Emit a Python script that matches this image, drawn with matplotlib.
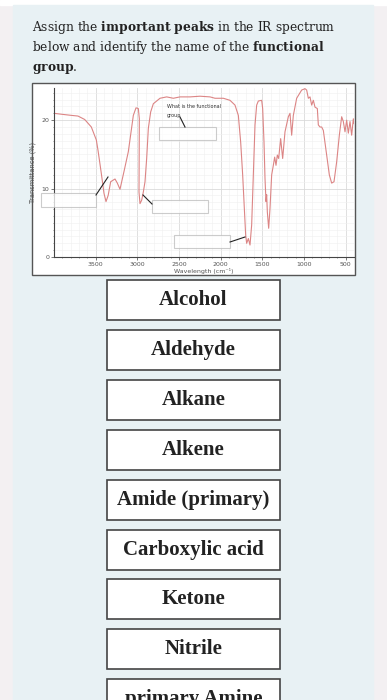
import numpy as np
import matplotlib.pyplot as plt
from matplotlib.patches import Rectangle

W, H = 387, 700

# IR spectrum
wavenumber = [4000, 3900, 3792, 3712, 3632, 3552, 3492, 3472, 3432, 3400, 3376,
              3350, 3320, 3268, 3240, 3208, 3160, 3108, 3048, 3016, 2988, 2976,
              2980, 2968, 2948, 2928, 2908, 2888, 2868, 2840, 2808, 2728, 2648,
              2568, 2488, 2368, 2248, 2128, 2068, 1968, 1888, 1828, 1788, 1760,
              1736, 1716, 1700, 1688, 1668, 1648, 1628, 1608, 1588, 1568, 1548,
              1508, 1496, 1480, 1468, 1456, 1448, 1440, 1424, 1408, 1388, 1368,
              1352, 1336, 1320, 1304, 1280, 1256, 1228, 1188, 1168, 1148, 1128,
              1088, 1028, 988, 968, 948, 928, 908, 888, 868, 840, 828, 808, 788,
              768, 728, 696, 668, 640, 608, 576, 548, 528, 508, 488, 468, 448,
              428, 408, 400]
transmittance = [21.0, 20.85, 20.7, 20.6, 20.1, 19.0, 17.1, 15.6, 12.2, 9.3, 8.1,
                 9.0, 11.0, 11.4, 10.8, 9.9, 12.5, 15.4, 20.7, 21.8, 21.7, 20.2,
                 9.5, 7.8, 8.3, 9.5, 11.0, 14.4, 18.8, 21.2, 22.4, 23.2, 23.4,
                 23.2, 23.4, 23.4, 23.5, 23.4, 23.2, 23.2, 22.9, 22.2, 20.7, 16.8,
                 12.0, 7.1, 3.2, 2.0, 2.7, 1.75, 4.7, 12.0, 19.3, 22.2, 22.8,
                 22.9, 21.7, 16.8, 11.5, 8.1, 9.1, 6.6, 4.2, 7.1, 12.0, 13.4,
                 14.6, 13.4, 14.9, 14.4, 17.3, 14.4, 18.3, 20.5, 21.0, 17.8, 20.7,
                 23.2, 24.4, 24.6, 24.4, 23.2, 23.4, 22.2, 22.9, 21.9, 21.7, 19.3,
                 19.0, 19.0, 18.5, 14.9, 12.0, 10.8, 11.0, 13.9, 17.8, 20.5, 19.8,
                 18.3, 20.0, 18.1, 19.8, 17.8, 20.2, 19.5]

x_ticks = [3500, 3000, 2500, 2000, 1500, 1000, 500]
y_ticks = [0, 10, 20]

choices = ["Alcohol", "Aldehyde", "Alkane", "Alkene", "Amide (primary)",
           "Carboxylic acid", "Ketone", "Nitrile", "primary Amine"]

title_lines = [r"Assign the $\mathbf{important\ peaks}$ in the IR spectrum",
               r"below and identify the name of the $\mathbf{functional}$",
               r"$\mathbf{group}$."]

plt.rcParams['mathtext.fontset'] = 'dejavuserif'


def px_axes(zorder):
    # full-figure axes working in pixel coordinates
    a = fig.add_axes([0, 0, 1, 1], zorder=zorder)
    a.set_xlim(0, W)
    a.set_ylim(H, 0)
    a.axis('off')
    a.patch.set_alpha(0)
    return a


fig = plt.figure(figsize=(W / 100, H / 100), dpi=100)
fig.patch.set_facecolor('#f3f0f2')

bg = px_axes(0)
bg.add_patch(Rectangle((0, 0), W, 5, color='white'))
bg.add_patch(Rectangle((13, 5), 360, 695, color='#e8f1f4'))
for i, line in enumerate(title_lines):
    bg.text(32, 31.5 + 19.5 * i, line, family='DejaVu Serif', fontsize=8.8,
            color='#222222', va='baseline')

bg.add_patch(Rectangle((32, 83), 323, 192, facecolor='white',
                       edgecolor='#555555', lw=1))

for i, c in enumerate(choices):
    top = 280 + 49.9 * i
    bg.add_patch(Rectangle((107, top), 173, 40, facecolor='white',
                           edgecolor='#444444', lw=1.2))
    # the last choice is cut by the bottom edge, as in the screenshot
    bg.text(193.5, top + 20, c, family='Liberation Serif', weight='bold',
            fontsize=15, ha='center', va='center', color='#222222')

# spectrum
ax = fig.add_axes([54 / W, 1 - 257 / H, 300 / W, 169 / H], zorder=1)
ax.plot(wavenumber, transmittance, color='#dc8585', lw=0.8)
ax.set_xlim(4000, 400)
ax.set_ylim(0, 24.7)
ax.set_xticks(x_ticks)
ax.set_yticks(y_ticks)
ax.set_xticks(np.arange(500, 4000, 100), minor=True)
ax.set_yticks(np.arange(0, 25, 1), minor=True)
ax.grid(which='major', color='#dadada', lw=0.6)
ax.grid(which='minor', color='#f0f0f0', lw=0.4)
ax.set_axisbelow(True)
for s in ['top', 'right']:
    ax.spines[s].set_visible(False)
for s in ['left', 'bottom']:
    ax.spines[s].set_color('#444444')
    ax.spines[s].set_linewidth(0.8)
ax.tick_params(which='major', labelsize=4.5, labelcolor='#555555', length=2,
               width=0.5, pad=1.5, color='#444444')
ax.tick_params(which='minor', length=1, width=0.4, color='#444444')
ax.set_xlabel('Wavelength (cm⁻¹)', fontsize=4.5, color='#555555', labelpad=1)
ax.set_ylabel('Transmittance (%)', fontsize=4.8, color='#555555')
ax.yaxis.set_label_coords(-18 / 300, 0.5)

# answer drop boxes on top of the chart
ov = px_axes(2)
drop_boxes = [(41, 193, 55, 14), (152, 200, 56, 13), (159, 126.5, 57, 13),
              (174, 235, 56, 13)]
for (bx, by, bw, bh) in drop_boxes:
    ov.add_patch(Rectangle((bx, by), bw, bh, facecolor='white', alpha=0.75,
                           edgecolor='#bbbbbb', lw=0.8))
leaders = [((96, 195), (108, 177)), ((143, 195), (152, 204)),
           ((180, 117), (185, 127)), ((230, 242), (245, 237))]
for p, q in leaders:
    ov.plot([p[0], q[0]], [p[1], q[1]], color='#222222', lw=0.8)
ov.text(167, 107, 'What is the functional', fontsize=3.5, color='#333333',
        va='center')
ov.text(167, 115, 'group', fontsize=3.5, color='#333333', va='center')

fig.savefig('out.png', dpi=100)
